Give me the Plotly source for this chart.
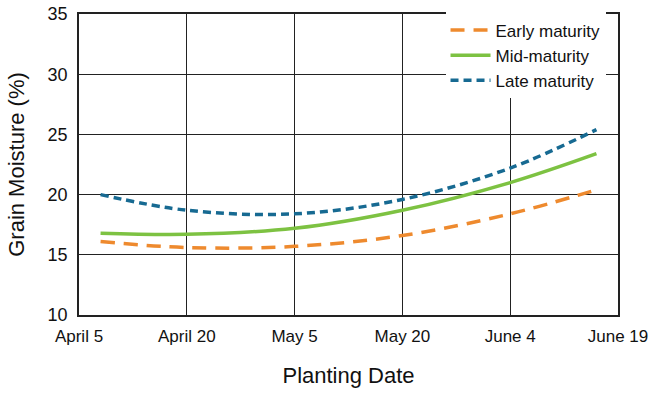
import plotly.graph_objects as go

dates = ["2023-04-08", "2023-04-20", "2023-05-05", "2023-05-20", "2023-06-04", "2023-06-16"]
early = [16.1, 15.6, 15.7, 16.6, 18.4, 20.4]
mid = [16.8, 16.7, 17.2, 18.7, 21.0, 23.4]
late = [20.0, 18.7, 18.4, 19.6, 22.2, 25.4]

tick_vals = ["2023-04-05", "2023-04-20", "2023-05-05", "2023-05-20", "2023-06-04", "2023-06-19"]
tick_text = ["April 5", "April 20", "May 5", "May 20", "June 4", "June 19"]

font = "Liberation Sans, Arial, sans-serif"

fig = go.Figure()
fig.add_trace(go.Scatter(x=dates, y=early, name="Early maturity", mode="lines",
                         line=dict(color="#EE8A2E", width=3.5, dash="14px,9px", shape="spline")))
fig.add_trace(go.Scatter(x=dates, y=mid, name="Mid-maturity", mode="lines",
                         line=dict(color="#7DC242", width=3.5, shape="spline")))
fig.add_trace(go.Scatter(x=dates, y=late, name="Late maturity", mode="lines",
                         line=dict(color="#176A92", width=3.5, dash="8px,5px", shape="spline")))

fig.update_layout(
    width=650, height=395,
    margin=dict(l=79, r=32, t=14, b=80, autoexpand=False),
    paper_bgcolor="white", plot_bgcolor="white",
    font=dict(family=font, color="#111"),
    legend=dict(x=0.68, y=1.005, xanchor="left", yanchor="top",
                bgcolor="white", font=dict(size=17, family=font),
                tracegroupgap=0, itemwidth=40),
    xaxis=dict(type="date", range=["2023-04-05", "2023-06-19"],
               tickvals=tick_vals, ticktext=tick_text, automargin=False,
               tickfont=dict(size=17), showgrid=True, gridcolor="#222", gridwidth=1,
               showline=True, linecolor="#222", linewidth=1.5, mirror=True,
               ticks="outside", ticklen=5, tickcolor="rgba(0,0,0,0)",
               title=dict(text="Planting Date", font=dict(size=22), standoff=22)),
    yaxis=dict(range=[10, 35], dtick=5, tickfont=dict(size=18), automargin=False,
               showgrid=True, gridcolor="#222", gridwidth=1,
               showline=True, linecolor="#222", linewidth=1.5, mirror=True,
               ticks="outside", ticklen=6, tickcolor="rgba(0,0,0,0)", zeroline=False,
               title=dict(text="Grain Moisture (%)", font=dict(size=22), standoff=17)),
)

# remove the browser's default 8px body margin so the figure fills the window exactly
fig.write_html("out.html", config={"displayModeBar": False},
               post_script="document.body.style.margin='0';document.body.style.overflow='hidden';")
